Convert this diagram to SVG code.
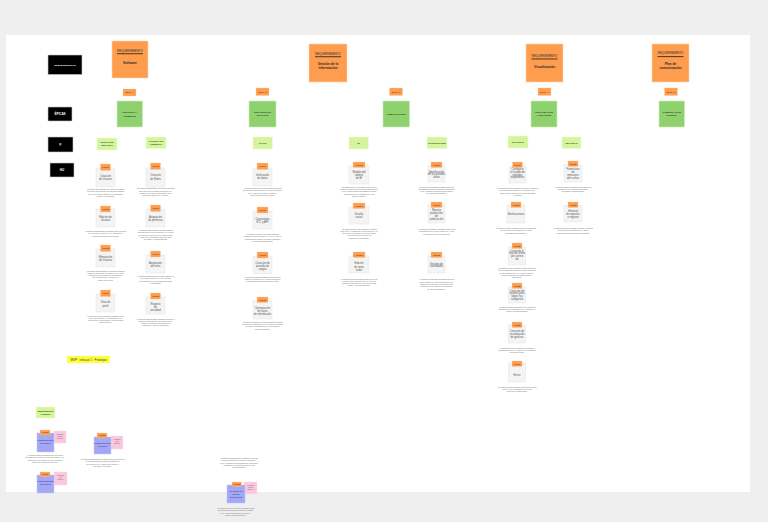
<svg xmlns="http://www.w3.org/2000/svg" width="768" height="522" viewBox="0 0 768 522">
<style>
text{font-family:"Liberation Sans",Arial,sans-serif;text-anchor:middle}
.req{fill:#ff9d4f;stroke:#ffd3ae;stroke-width:.6}
.tag{fill:#ff9d4f;stroke:#ffc894;stroke-width:.3}
.ep{fill:#8fd16e;stroke:#cdeebc;stroke-width:.6}
.ft{fill:#d5f59c;stroke:#eefad6;stroke-width:.6}
.card{fill:#f4f4f4;stroke:#dedede;stroke-width:.4}
.blk{fill:#000;stroke:#c8c8c8;stroke-width:.6}
.pur{fill:#a4a7f5;stroke:#c6c8fa;stroke-width:.5}
.pnk{fill:#f9c8de;stroke:#fbdbe9;stroke-width:.4}
.tw{fill:#fff;font-weight:bold}
.tt{fill:#3a2a1a;font-size:2.3px}
.tr{fill:#2b2b2b;font-size:3.1px}
.tb{fill:#2b2b2b;font-size:3.3px;font-weight:bold}
.te{fill:#1f3a10;font-size:2.3px;font-weight:bold}
.tf{fill:#2f4a10;font-size:2.2px;font-weight:bold}
.th{fill:#555;font-size:2.7px}
.td{fill:#6a6a6a;font-size:1.85px}
.tp{fill:#2a2a80;font-size:2.5px}
.tk{fill:#8a4a6a;font-size:1.7px}
</style>
<rect width="768" height="522" fill="#efefef"/>
<rect x="6" y="35" width="744" height="457" fill="#ffffff"/>

<g id="connectors"></g>

<!-- row labels -->
<g id="lbl-req"><rect class="blk" x="48" y="55" width="34" height="19.5"/><text class="tw" x="65" y="65.8" font-size="2.4">REQUERIMIENTOS</text></g>
<g id="lbl-epicas"><rect class="blk" x="48" y="107" width="24" height="14"/><text class="tw" x="60" y="115.2" font-size="3">ÉPICAS</text></g>
<g id="lbl-f"><rect class="blk" x="48" y="137" width="25" height="15"/><text class="tw" x="60.5" y="145.6" font-size="3">F</text></g>
<g id="lbl-hu"><rect class="blk" x="50" y="163" width="24" height="14"/><text class="tw" x="62" y="171.2" font-size="3">HU</text></g>

<!-- requirements -->
<g id="req-software"><rect class="req" x="112" y="41" width="36" height="37"/><text class="tr" x="130" y="51.8">REQUERIMIENTO</text><rect x="117" y="53.3" width="26" height="0.9" fill="#3a2a1a"/><text class="tb" x="130" y="63.5">Software</text></g>
<g id="req-gestion"><rect class="req" x="309" y="44" width="38" height="38"/><text class="tr" x="328" y="54.8">REQUERIMIENTO</text><rect x="315" y="56.3" width="26" height="0.9" fill="#3a2a1a"/><text class="tb" x="328" y="64.5">Gestión de la</text><text class="tb" x="328" y="69.3">información</text></g>
<g id="req-visual"><rect class="req" x="526" y="44" width="37" height="38"/><text class="tr" x="544.5" y="57">REQUERIMIENTO</text><rect x="531.5" y="58.5" width="26" height="0.9" fill="#3a2a1a"/><text class="tb" x="544.5" y="67.5">Visualización</text></g>
<g id="req-plan"><rect class="req" x="652" y="44" width="37" height="38"/><text class="tr" x="670.5" y="53.5">REQUERIMIENTO</text><rect x="657.5" y="56.2" width="26" height="0.9" fill="#3a2a1a"/><text class="tb" x="670.5" y="64.5">Plan de</text><text class="tb" x="670.5" y="69.3">comunicación</text></g>

<!-- epics -->
<g id="epica1"><rect class="tag" x="123" y="89" width="13" height="7"/><text class="tt" x="129.5" y="93.3">ÉPICA 1</text><rect class="ep" x="117" y="101" width="25.5" height="26"/><text class="te" x="129.7" y="113.3">USUARIOS Y</text><text class="te" x="129.7" y="116.5">PERMISOS</text></g>
<g id="epica2"><rect class="tag" x="256" y="88" width="13" height="7.5"/><text class="tt" x="262.5" y="92.6">ÉPICA 2</text><rect class="ep" x="249" y="101" width="27" height="26"/><text class="te" x="262.5" y="112.8">RECOLECCIÓN</text><text class="te" x="262.5" y="116">DE DATOS</text></g>
<g id="epica3"><rect class="tag" x="389.5" y="88" width="13" height="7.5"/><text class="tt" x="396" y="92.6">ÉPICA 3</text><rect class="ep" x="383" y="101" width="26.5" height="26"/><text class="te" x="396.2" y="114.5">PUBLICACIONES</text></g>
<g id="epica4"><rect class="tag" x="538" y="88" width="13" height="7.5"/><text class="tt" x="544.5" y="92.6">ÉPICA 4</text><rect class="ep" x="531" y="101" width="26" height="26"/><text class="te" x="544" y="112.8">VISUALIZACIÓN</text><text class="te" x="544" y="116">Y REPORTES</text></g>
<g id="epica5"><rect class="tag" x="664.5" y="88" width="13" height="7.5"/><text class="tt" x="671" y="92.6">ÉPICA 5</text><rect class="ep" x="659" y="101" width="25.5" height="26"/><text class="te" x="671.7" y="112.8">COMUNICACIÓN</text><text class="te" x="671.7" y="116">INTERNA</text></g>

<!-- features -->
<g id="f-gestion"><rect class="ft" x="97" y="138" width="20" height="12"/><text class="tf" x="107" y="143.2">GESTIÓN DE</text><text class="tf" x="107" y="146.2">USUARIOS</text></g>
<g id="f-control"><rect class="ft" x="146" y="137" width="20" height="11.5"/><text class="tf" x="156" y="142">CONTROL DE</text><text class="tf" x="156" y="145">PERMISOS</text></g>
<g id="f-datos"><rect class="ft" x="253" y="137" width="19.5" height="12"/><text class="tf" x="262.7" y="144" font-size="2.8">DATOS</text></g>
<g id="f-bi"><rect class="ft" x="349" y="137" width="19.5" height="12"/><text class="tf" x="358.7" y="144" font-size="2.8">BI</text></g>
<g id="f-prod"><rect class="ft" x="427" y="137" width="20" height="11.5"/><text class="tf" x="437" y="143.5" font-size="2">PRODUCCIONES</text></g>
<g id="f-informar"><rect class="ft" x="508" y="136" width="20" height="12"/><text class="tf" x="518" y="142.8">INFORMAR</text></g>
<g id="f-reportar"><rect class="ft" x="562" y="137" width="19" height="11.5"/><text class="tf" x="571.5" y="143.5">REPORTAR</text></g>

<!-- HU cards: Gestión de usuarios -->
<g id="hu001" transform="translate(105.5,164)"><rect class="card" x="-9.5" y="4" width="19" height="19"/><rect class="tag" x="-5" y="0" width="10" height="6.5"/><text class="tt" x="0" y="4" font-size="2">HU001</text><text class="th" x="0" y="12.5">Creación</text><text class="th" x="0" y="15.7">de Usuario</text><text class="td" x="0" y="26">YO COMO administrador del sistema QUIERO</text><text class="td" x="0" y="28.3">crear nuevos usuarios con sus datos básicos</text><text class="td" x="0" y="30.6">PARA que puedan acceder a la plataforma</text><text class="td" x="0" y="32.9">según el rol asignado.</text></g>
<g id="hu002" transform="translate(105.5,206)"><rect class="card" x="-9.5" y="3" width="19" height="18"/><rect class="tag" x="-5" y="0" width="10" height="6"/><text class="tt" x="0" y="3.8" font-size="2">HU002</text><text class="th" x="0" y="11.5">Edición de</text><text class="th" x="0" y="14.7">Usuario</text><text class="td" x="0" y="26">YO COMO administrador QUIERO editar los datos</text><text class="td" x="0" y="28.3">de un usuario existente PARA mantener la</text><text class="td" x="0" y="30.6">información siempre actualizada.</text></g>
<g id="hu003" transform="translate(105.5,245)"><rect class="card" x="-9.5" y="4" width="19" height="18"/><rect class="tag" x="-5" y="0" width="10" height="6.5"/><text class="tt" x="0" y="4" font-size="2">HU003</text><text class="th" x="0" y="12.5">Eliminación</text><text class="th" x="0" y="15.7">de Usuario</text><text class="td" x="0" y="26.5">YO COMO administrador del sistema QUIERO</text><text class="td" x="0" y="28.8">eliminar o desactivar un usuario PARA evitar</text><text class="td" x="0" y="31.1">accesos no autorizados a la información</text><text class="td" x="0" y="33.4">de la organización y mantener el</text><text class="td" x="0" y="35.7">control de cuentas.</text></g>
<g id="hu004" transform="translate(105.5,290)"><rect class="card" x="-9.5" y="4" width="19" height="18"/><rect class="tag" x="-5" y="0" width="10" height="6.5"/><text class="tt" x="0" y="4" font-size="2">HU004</text><text class="th" x="0" y="12.8" font-size="3.6">Vista de</text><text class="th" x="0" y="17" font-size="3.6">perfil</text><text class="td" x="0" y="26.5">YO COMO usuario registrado QUIERO ver mi</text><text class="td" x="0" y="28.8">perfil con mis datos y rol asignado PARA</text><text class="td" x="0" y="31.1">verificar que mi información y mis permisos</text><text class="td" x="0" y="33.4">sean correctos.</text></g>

<!-- Control de permisos -->
<g id="hu005" transform="translate(155.5,163)"><rect class="card" x="-9.5" y="5" width="19" height="19"/><rect class="tag" x="-5" y="0" width="10" height="6.5"/><text class="tt" x="0" y="4" font-size="2">HU005</text><text class="th" x="0" y="12.8" font-size="3.3">Creación</text><text class="th" x="0" y="16.5" font-size="3.3">de Roles</text><text class="td" x="0" y="26.3">YO COMO administrador del sistema QUIERO</text><text class="td" x="0" y="28.6">crear roles con permisos definidos PARA</text><text class="td" x="0" y="30.9">controlar el acceso a cada módulo de la</text><text class="td" x="0" y="33.2">plataforma. Datos, BI y reportes.</text></g>
<g id="hu006" transform="translate(155.5,205)"><rect class="card" x="-9.5" y="4" width="19" height="18"/><rect class="tag" x="-5" y="0" width="10" height="6.5"/><text class="tt" x="0" y="4" font-size="2">HU006</text><text class="th" x="0" y="12.5">Asignación</text><text class="th" x="0" y="15.7">de permisos</text><text class="td" x="0" y="26">YO COMO administrador QUIERO asignar</text><text class="td" x="0" y="28.3">permisos específicos a cada rol PARA definir</text><text class="td" x="0" y="30.6">qué acciones puede realizar cada usuario</text><text class="td" x="0" y="32.9">dentro de la plataforma según su área</text><text class="td" x="0" y="35.2">de trabajo y responsabilidad.</text></g>
<g id="hu007" transform="translate(155.5,251)"><rect class="card" x="-9.5" y="4" width="19" height="18"/><rect class="tag" x="-5" y="0" width="10" height="6"/><text class="tt" x="0" y="3.8" font-size="2">HU007</text><text class="th" x="0" y="12.5">Asignación</text><text class="th" x="0" y="15.7">de roles</text><text class="td" x="0" y="26">YO COMO administrador QUIERO asignar un</text><text class="td" x="0" y="28.3">rol a cada usuario PARA que obtenga</text><text class="td" x="0" y="30.6">automáticamente los permisos definidos</text><text class="td" x="0" y="32.9">y restringidos.</text></g>
<g id="hu008" transform="translate(155.5,293)"><rect class="card" x="-9.5" y="4" width="19" height="17"/><rect class="tag" x="-5" y="0" width="10" height="6"/><text class="tt" x="0" y="3.8" font-size="2">HU008</text><text class="th" x="0" y="11.5">Registro</text><text class="th" x="0" y="14.7">de</text><text class="th" x="0" y="17.9">actividad</text><text class="td" x="0" y="26.5">YO COMO administrador QUIERO consultar el</text><text class="td" x="0" y="28.8">registro de actividad de los usuarios PARA</text><text class="td" x="0" y="31.1">auditar los cambios realizados en la</text><text class="td" x="0" y="33.4">plataforma y detectar anomalías.</text></g>

<!-- DATOS -->
<g id="hu009" transform="translate(262.5,163)"><rect class="card" x="-9.5" y="5" width="19" height="18"/><rect class="tag" x="-5.5" y="0" width="11" height="6.5"/><text class="tt" x="0" y="4" font-size="2">HU009</text><text class="th" x="0" y="12.5">Unificación</text><text class="th" x="0" y="16">de datos</text><text class="td" x="0" y="26">YO COMO analista de datos QUIERO unificar</text><text class="td" x="0" y="28.3">las fuentes de información en un solo repositorio</text><text class="td" x="0" y="30.6">PARA facilitar su consulta, análisis y</text><text class="td" x="0" y="32.9">uso en los tableros de control.</text></g>
<g id="hu010" transform="translate(262.5,207)"><rect class="card" x="-9.5" y="4" width="19" height="18"/><rect class="tag" x="-5.5" y="0" width="11" height="6"/><text class="tt" x="0" y="3.8" font-size="2">HU010</text><text class="th" x="0" y="12.5">Conexiones</text><text class="th" x="0" y="15.7">ETL y API</text><text class="td" x="0" y="28">YO COMO ingeniero de datos QUIERO</text><text class="td" x="0" y="30.3">configurar conexiones ETL y API PARA que la</text><text class="td" x="0" y="32.6">información se cargue de forma automática</text><text class="td" x="0" y="34.9">y sin intervención manual.</text></g>
<g id="hu011" transform="translate(262.5,252)"><rect class="card" x="-9.5" y="4.5" width="19" height="17"/><rect class="tag" x="-5.5" y="0" width="11" height="6"/><text class="tt" x="0" y="3.8" font-size="2">HU011</text><text class="th" x="0" y="11.5">Creación de</text><text class="th" x="0" y="14.7">pantalla de</text><text class="th" x="0" y="17.9">cargue</text><text class="td" x="0" y="25.5">YO COMO analista QUIERO una pantalla de</text><text class="td" x="0" y="27.8">cargue de archivos PARA subir información</text><text class="td" x="0" y="30.1">complementaria al repositorio de datos.</text></g>
<g id="hu012" transform="translate(262.5,297)"><rect class="card" x="-9.5" y="4" width="19" height="18"/><rect class="tag" x="-5.5" y="0" width="11" height="5.5"/><text class="tt" x="0" y="3.6" font-size="2">HU012</text><text class="th" x="0" y="11.5">Optimización</text><text class="th" x="0" y="14.7">de flujos</text><text class="th" x="0" y="17.9">de información</text><text class="td" x="0" y="25.8">YO COMO ingeniero de datos QUIERO optimizar</text><text class="td" x="0" y="28.1">los flujos de información PARA reducir los tiempos</text><text class="td" x="0" y="30.4">de carga y procesamiento de los datos en</text><text class="td" x="0" y="32.7">toda la plataforma.</text></g>

<!-- BI -->
<g id="hu013" transform="translate(359,162)"><rect class="card" x="-10" y="4" width="20" height="18"/><rect class="tag" x="-6" y="0" width="12" height="5.5"/><text class="tt" x="0" y="3.6" font-size="2">HU013</text><text class="th" x="0" y="11">Modelo del</text><text class="th" x="0" y="14.2">tablero</text><text class="th" x="0" y="17.4">de BI</text><text class="td" x="0" y="25.8">YO COMO directivo QUIERO contar con un</text><text class="td" x="0" y="28.1">modelo de tablero de BI con indicadores clave</text><text class="td" x="0" y="30.4">PARA tomar decisiones basadas en datos</text><text class="td" x="0" y="32.7">actualizados de la organización y sus</text><text class="td" x="0" y="35">áreas de gestión.</text></g>
<g id="hu014" transform="translate(359,203)"><rect class="card" x="-10" y="4" width="20" height="17"/><rect class="tag" x="-6" y="0" width="12" height="5.5"/><text class="tt" x="0" y="3.6" font-size="2">HU014</text><text class="th" x="0" y="12">Diseño</text><text class="th" x="0" y="15.2">visual</text><text class="td" x="0" y="26.5">YO COMO usuario final QUIERO un diseño</text><text class="td" x="0" y="28.8">visual claro y consistente en los tableros PARA</text><text class="td" x="0" y="31.1">interpretar la información de forma rápida</text><text class="td" x="0" y="33.4">y sin errores de lectura de los</text><text class="td" x="0" y="35.7">indicadores presentados.</text></g>
<g id="hu015" transform="translate(359,252)"><rect class="card" x="-10" y="4" width="20" height="17"/><rect class="tag" x="-6" y="0" width="12" height="5.5"/><text class="tt" x="0" y="3.6" font-size="2">HU015</text><text class="th" x="0" y="11.8" font-size="3.6">Edición</text><text class="th" x="0" y="15.5" font-size="3.6">de texto</text><text class="th" x="0" y="19.2" font-size="3.6">nube</text><text class="td" x="0" y="27.5">YO COMO analista QUIERO editar los textos</text><text class="td" x="0" y="29.8">explicativos de los tableros PARA que los</text><text class="td" x="0" y="32.1">usuarios comprendan el contexto de cada</text><text class="td" x="0" y="34.4">gráfico y de cada indicador.</text></g>

<!-- Producciones -->
<g id="hu016" transform="translate(436.5,162)"><rect class="card" x="-8.5" y="4" width="17" height="16"/><rect class="tag" x="-5.5" y="0" width="11" height="5.5"/><text class="tt" x="0" y="3.6" font-size="2">HU016</text><text class="th" x="0" y="10.5" font-size="2.4">Identificación</text><text class="th" x="0" y="13.3" font-size="2.4">de las grandes</text><text class="th" x="0" y="16.1" font-size="2.4">áreas</text><text class="td" x="0" y="25.5">YO COMO investigador QUIERO identificar</text><text class="td" x="0" y="27.8">las grandes áreas de producción académica</text><text class="td" x="0" y="30.1">PARA clasificar las publicaciones según</text><text class="td" x="0" y="32.4">su línea de investigación.</text></g>
<g id="hu017" transform="translate(436.5,202)"><rect class="card" x="-8.5" y="3" width="17" height="18"/><rect class="tag" x="-5.5" y="0" width="11" height="5.5"/><text class="tt" x="0" y="3.6" font-size="2">HU017</text><text class="th" x="0" y="8.5">Manejo</text><text class="th" x="0" y="11.8">producción</text><text class="th" x="0" y="15.1">de</text><text class="th" x="0" y="18.4">publicación</text><text class="td" x="0" y="28">YO COMO investigador QUIERO registrar mis</text><text class="td" x="0" y="30.3">publicaciones en un solo lugar PARA llevar</text><text class="td" x="0" y="32.6">el seguimiento de mi producción.</text></g>
<g id="hu018" transform="translate(436.5,252)"><rect class="card" x="-8.5" y="4" width="17" height="17"/><rect class="tag" x="-5.5" y="0" width="11" height="5.5"/><text class="tt" x="0" y="3.6" font-size="2">HU018</text><text class="th" x="0" y="12.5" font-size="2.3">Gestión de</text><text class="th" x="0" y="15.2" font-size="2.3">novedades</text><text class="td" x="0" y="28.3">YO COMO coordinador QUIERO gestionar</text><text class="td" x="0" y="30.6">las novedades de las producciones PARA</text><text class="td" x="0" y="32.9">mantener actualizado el estado de cada</text><text class="td" x="0" y="35.2">publicación y su respectiva información.</text><text class="td" x="0" y="37.5">de los investigadores.</text></g>

<!-- Informar -->
<g id="hu019" transform="translate(517.5,162)"><rect class="card" x="-8.5" y="4.5" width="17" height="16.5"/><rect class="tag" x="-5" y="0" width="10" height="5.5"/><text class="tt" x="0" y="3.6" font-size="2">HU019</text><text class="th" x="0" y="8" font-size="2.2">Configurar</text><text class="th" x="0" y="10.8" font-size="2.2">el estado de</text><text class="th" x="0" y="13.6" font-size="2.2">reportes</text><text class="th" x="0" y="16.4" font-size="2.2">disponibles</text><text class="td" x="0" y="27">YO COMO usuario QUIERO consultar el estado de</text><text class="td" x="0" y="29.3">los reportes disponibles en el sistema PARA</text><text class="td" x="0" y="31.6">saber cuáles están listos para su descarga</text><text class="td" x="0" y="33.9">y consulta.</text></g>
<g id="hu020" transform="translate(516,202)"><rect class="card" x="-9" y="3" width="18" height="18"/><rect class="tag" x="-5" y="0" width="10" height="5.5"/><text class="tt" x="0" y="3.6" font-size="2">HU020</text><text class="th" x="0" y="13" font-size="2.4">Notificaciones</text><text class="td" x="0" y="27">YO COMO usuario QUIERO recibir notificaciones</text><text class="td" x="0" y="29.3">de los reportes generados PARA estar</text><text class="td" x="0" y="31.6">informado oportunamente.</text></g>
<g id="hu021" transform="translate(517,243)"><rect class="card" x="-8.5" y="4" width="17" height="18"/><rect class="tag" x="-5" y="0" width="10" height="5.5"/><text class="tt" x="0" y="3.6" font-size="2">HU021</text><text class="th" x="0" y="8.5" font-size="2.2">Creación &amp;</text><text class="th" x="0" y="11.3" font-size="2.2">flujo de alerta</text><text class="th" x="0" y="14.1" font-size="2.2">por correo</text><text class="th" x="0" y="16.9" font-size="2.2">de</text><text class="td" x="0" y="26">YO COMO usuario QUIERO recibir alertas por</text><text class="td" x="0" y="28.3">correo cuando se cumplan ciertas condiciones</text><text class="td" x="0" y="30.6">de los indicadores PARA actuar a tiempo y</text><text class="td" x="0" y="32.9">tomar decisiones informadas sobre el</text><text class="td" x="0" y="35.2">desempeño.</text></g>
<g id="hu022" transform="translate(517,283)"><rect class="card" x="-8.5" y="4" width="17" height="16"/><rect class="tag" x="-5" y="0" width="10" height="5.5"/><text class="tt" x="0" y="3.6" font-size="2">HU022</text><text class="th" x="0" y="8.5" font-size="2.2">Creación de</text><text class="th" x="0" y="11.3" font-size="2.2">tarjetas para</text><text class="th" x="0" y="14.1" font-size="2.2">seguir las</text><text class="th" x="0" y="16.9" font-size="2.2">categorías</text><text class="td" x="0" y="24.5">YO COMO usuario QUIERO crear tarjetas de</text><text class="td" x="0" y="26.8">seguimiento por categoría PARA visualizar el</text><text class="td" x="0" y="29.1">avance de cada indicador.</text></g>
<g id="hu023" transform="translate(517,322)"><rect class="card" x="-8.5" y="3" width="17" height="18"/><rect class="tag" x="-5" y="0" width="10" height="5.5"/><text class="tt" x="0" y="3.6" font-size="2">HU023</text><text class="th" x="0" y="10" font-size="2.2">Creación de</text><text class="th" x="0" y="12.8" font-size="2.2">visualización</text><text class="th" x="0" y="15.6" font-size="2.2">de gráficos</text><text class="td" x="0" y="26.5">YO COMO usuario QUIERO crear gráficos</text><text class="td" x="0" y="28.8">personalizados PARA presentar la información</text><text class="td" x="0" y="31.1">de manera visual.</text></g>
<g id="hu024" transform="translate(517,361)"><rect class="card" x="-8.5" y="2" width="17" height="19"/><rect class="tag" x="-5" y="0" width="10" height="5.5"/><text class="tt" x="0" y="3.6" font-size="2">HU024</text><text class="th" x="0" y="15" font-size="5.6">Envío</text><text class="td" x="0" y="26.5">YO COMO usuario QUIERO enviar reportes por</text><text class="td" x="0" y="28.8">correo PARA compartirlos con otras</text><text class="td" x="0" y="31.1">áreas de la organización.</text></g>

<!-- Reportar -->
<g id="hu025" transform="translate(573,161)"><rect class="card" x="-9" y="4" width="18" height="17"/><rect class="tag" x="-5" y="0" width="10" height="5.5"/><text class="tt" x="0" y="3.6" font-size="2">HU025</text><text class="th" x="0" y="8.5" font-size="2.2">Formulario</text><text class="th" x="0" y="11.5" font-size="2.2">de</text><text class="th" x="0" y="14.5" font-size="2.2">mensajes</text><text class="th" x="0" y="17.5" font-size="2.2">del correo</text><text class="td" x="0" y="26.5">YO COMO usuario QUIERO un formulario de</text><text class="td" x="0" y="28.8">mensajes PARA reportar incidencias y</text><text class="td" x="0" y="31.1">novedades al administrador.</text></g>
<g id="hu026" transform="translate(573,202)"><rect class="card" x="-9" y="3.5" width="18" height="16.5"/><rect class="tag" x="-5" y="0" width="10" height="5.5"/><text class="tt" x="0" y="3.6" font-size="2">HU026</text><text class="th" x="0" y="9.5" font-size="2.2">Historial</text><text class="th" x="0" y="12.5" font-size="2.2">de reportes</text><text class="th" x="0" y="15.5" font-size="2.2">e registro</text><text class="td" x="0" y="27">YO COMO usuario QUIERO consultar el historial</text><text class="td" x="0" y="29.3">de los reportes enviados PARA hacer</text><text class="td" x="0" y="31.6">seguimiento a las solicitudes realizadas.</text></g>

<!-- bottom left -->
<g id="mvp"><rect x="67" y="356" width="43" height="7" fill="#ffff3c"/><text x="88.5" y="360.8" font-size="3" fill="#333">MVP · release 1 · Prototipo</text></g>
<g id="f-mant"><rect class="ft" x="36" y="407" width="19" height="11"/><text class="tf" x="45.5" y="411.8" font-size="2">Mantenimiento</text><text class="tf" x="45.5" y="414.6" font-size="2">y soporte</text></g>

<g id="hu027"><rect class="pnk" x="54" y="431" width="12" height="12"/><text class="tk" x="60" y="434.5">Prioridad</text><text class="tk" x="60" y="436.7">media</text><text class="tk" x="60" y="438.9">Sprint 2</text><rect class="pur" x="37" y="433" width="17" height="19"/><rect class="tag" x="40" y="430" width="10" height="5"/><text class="tt" x="45" y="433.3" font-size="2">HU027</text><text class="tp" x="45.5" y="441">Mantenimiento</text><text class="tp" x="45.5" y="444">correctivo</text><text class="td" x="45" y="456">YO COMO usuario QUIERO que los errores</text><text class="td" x="45" y="458.3">reportados se corrijan en el menor tiempo PARA</text><text class="td" x="45" y="460.6">continuar con mi trabajo sin interrupciones,</text><text class="td" x="45" y="462.9">según los acuerdos de servicio.</text></g>
<g id="hu028"><rect class="pnk" x="111" y="436" width="12" height="13"/><text class="tk" x="117" y="439.5">Prioridad</text><text class="tk" x="117" y="441.7">baja</text><text class="tk" x="117" y="443.9">Sprint 3</text><rect class="pur" x="94" y="437" width="17" height="17"/><rect class="tag" x="97" y="433" width="10" height="5"/><text class="tt" x="102" y="436.3" font-size="2">HU028</text><text class="tp" x="102.5" y="444">Mantenimiento</text><text class="tp" x="102.5" y="447">evolutivo</text><text class="td" x="102.5" y="460">YO COMO administrador QUIERO incorporar mejoras</text><text class="td" x="102.5" y="462.3">a la plataforma según las necesidades de</text><text class="td" x="102.5" y="464.6">los usuarios PARA mantenerla vigente y</text><text class="td" x="102.5" y="466.9">funcional en el tiempo.</text></g>
<g id="hu029"><rect class="pnk" x="54" y="472" width="13" height="13"/><text class="tk" x="60.5" y="475.5">Prioridad</text><text class="tk" x="60.5" y="477.7">alta</text><text class="tk" x="60.5" y="479.9">Sprint 2</text><rect class="pur" x="37" y="475" width="17" height="18"/><rect class="tag" x="40" y="472" width="10" height="4.5"/><text class="tt" x="45" y="475" font-size="2">HU029</text><text class="tp" x="45.5" y="482">Mantenimiento</text><text class="tp" x="45.5" y="485">preventivo</text></g>

<!-- bottom middle -->
<g id="hu030"><text class="td" x="239" y="459">YO COMO administrador QUIERO revisar las</text><text class="td" x="239" y="461.3">tareas pendientes del equipo de desarrollo</text><text class="td" x="239" y="463.6">PARA organizar las prioridades de cada sprint</text><text class="td" x="239" y="465.9">y garantizar la entrega oportuna de las</text><text class="td" x="239" y="468.2">funcionalidades.</text><rect class="pnk" x="244" y="482" width="13" height="12"/><text class="tk" x="250.5" y="485.5">Prioridad</text><text class="tk" x="250.5" y="487.7">media</text><text class="tk" x="250.5" y="489.9">Sprint 4</text><rect class="pur" x="227" y="485" width="18" height="18"/><rect class="tag" x="232" y="482" width="9.5" height="4.5"/><text class="tt" x="236.7" y="485" font-size="2">HU030</text><text class="tp" x="236" y="492">Revisión de</text><text class="tp" x="236" y="495">tareas</text><text class="tp" x="236" y="498">pendientes</text><text class="td" x="235.5" y="509">YO COMO líder del proyecto QUIERO revisar</text><text class="td" x="235.5" y="511.3">las tareas pendientes del tablero de trabajo</text><text class="td" x="235.5" y="513.6">PARA hacer seguimiento al avance y</text><text class="td" x="235.5" y="515.9">cumplir los compromisos.</text></g>
</svg>
